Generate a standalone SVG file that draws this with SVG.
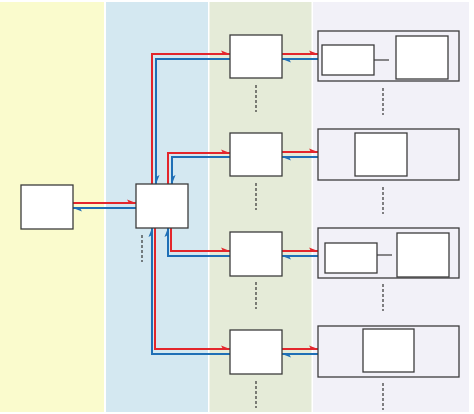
<svg xmlns="http://www.w3.org/2000/svg" width="474" height="414" viewBox="0 0 474 414">
<defs>
<style>
.box{fill:#fff;stroke:#3c3c3c;stroke-width:1.3}
.cont{fill:none;stroke:#3c3c3c;stroke-width:1.3}
.red{fill:none;stroke:#e3262c;stroke-width:2;marker-end:url(#ar)}
.blue{fill:none;stroke:#1f6fb6;stroke-width:2;marker-end:url(#ab)}
.dash{stroke:#333;stroke-width:1.2;stroke-dasharray:3,2;fill:none}
.link{stroke:#3c3c3c;stroke-width:1.2}
</style>
<marker id="ar" markerUnits="userSpaceOnUse" markerWidth="12" markerHeight="12" refX="0" refY="0" viewBox="-9 -6 12 12" orient="auto" overflow="visible">
<path d="M0,0 L-9,-3.5 L-7,0 Z" fill="#e3262c"/>
</marker>
<marker id="ab" markerUnits="userSpaceOnUse" markerWidth="12" markerHeight="12" refX="0" refY="0" viewBox="-9 -6 12 12" orient="auto" overflow="visible">
<path d="M0,0 L-9,-3.5 L-7,0 Z" fill="#1f6fb6"/>
</marker>
</defs>
<g id="lanes">
<rect x="0" y="2" width="104" height="410" fill="#fafbcd"/>
<rect x="106" y="2" width="102" height="410" fill="#d4e8f1"/>
<rect x="209.5" y="2" width="102" height="410" fill="#e5ebd8"/>
<rect x="313" y="2" width="156" height="410" fill="#f2f1f8"/>
</g>
<g id="connectors">
<path class="red" d="M73,203 H136"/>
<path class="blue" d="M136,208 H73"/>
<path class="red" d="M152,184 V54 H230"/>
<path class="blue" d="M230,59 H156 V184"/>
<path class="red" d="M168,184 V153 H230"/>
<path class="blue" d="M230,157 H172 V184"/>
<path class="red" d="M171,228 V251 H230"/>
<path class="blue" d="M230,256 H168 V228"/>
<path class="red" d="M155,228 V349 H230"/>
<path class="blue" d="M230,354 H152 V228"/>
<path class="red" d="M282,54 H318"/>
<path class="blue" d="M318,59 H282"/>
<path class="red" d="M282,152 H318"/>
<path class="blue" d="M318,157 H282"/>
<path class="red" d="M282,251 H318"/>
<path class="blue" d="M318,256 H282"/>
<path class="red" d="M282,349 H318"/>
<path class="blue" d="M318,354 H282"/>
</g>
<g id="dashes">
<line class="dash" x1="142" y1="235" x2="142" y2="262"/>
<line class="dash" x1="256" y1="85" x2="256" y2="112"/>
<line class="dash" x1="256" y1="183" x2="256" y2="210"/>
<line class="dash" x1="256" y1="282" x2="256" y2="309"/>
<line class="dash" x1="256" y1="381" x2="256" y2="408"/>
<line class="dash" x1="383" y1="88" x2="383" y2="115"/>
<line class="dash" x1="383" y1="187" x2="383" y2="214"/>
<line class="dash" x1="383" y1="284" x2="383" y2="311"/>
<line class="dash" x1="383" y1="383" x2="383" y2="410"/>
</g>
<g id="n-left"><rect class="box" x="21" y="185" width="52" height="44"/></g>
<g id="n-center"><rect class="box" x="136" y="184" width="52" height="44"/></g>
<g id="n-a1"><rect class="box" x="230" y="35" width="52" height="43"/></g>
<g id="n-a2"><rect class="box" x="230" y="133" width="52" height="43"/></g>
<g id="n-a3"><rect class="box" x="230" y="232" width="52" height="44"/></g>
<g id="n-a4"><rect class="box" x="230" y="330" width="52" height="44"/></g>
<g id="n-c1">
<rect class="cont" x="318" y="31" width="141" height="50"/>
<rect class="box" x="322" y="45" width="52" height="30"/>
<line class="link" x1="374" y1="60" x2="389" y2="60"/>
<rect class="box" x="396" y="36" width="52" height="43"/>
</g>
<g id="n-c2">
<rect class="cont" x="318" y="129" width="141" height="51"/>
<rect class="box" x="355" y="133" width="52" height="43"/>
</g>
<g id="n-c3">
<rect class="cont" x="318" y="228" width="141" height="50"/>
<rect class="box" x="325" y="243" width="52" height="30"/>
<line class="link" x1="377" y1="255" x2="392" y2="255"/>
<rect class="box" x="397" y="233" width="52" height="44"/>
</g>
<g id="n-c4">
<rect class="cont" x="318" y="326" width="141" height="51"/>
<rect class="box" x="363" y="329" width="51" height="43"/>
</g>
</svg>
